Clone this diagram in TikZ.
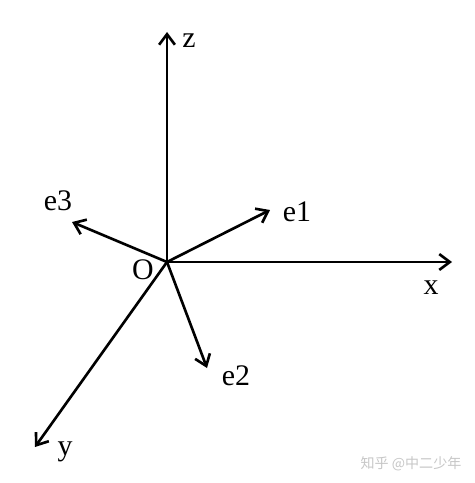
\documentclass[tikz,border=0pt]{standalone}
\usepackage{fontspec}
\setmainfont{Liberation Serif}
\newfontfamily\cjk{Noto Sans CJK SC}
\usetikzlibrary{arrows.meta}

\begin{document}
\begin{tikzpicture}[
  x=0.02cm,y=-0.02cm,
  axis/.style={-{Straight Barb[length=6pt,width=9pt,line width=1.5pt]},line width=1.5pt},
  lab/.style={font=\fontsize{17}{17}\selectfont,inner sep=0pt},
  wmark/.style={font=\cjk\fontsize{8}{8}\selectfont,text=black!22,inner sep=0pt}]

  % canvas
  \useasboundingbox[fill=white] (0,0) rectangle (474,483);

  % origin and tips of the arrows
  \coordinate (O) at (167,262);
  \coordinate (X) at (452,262);
  \coordinate (Y) at (35,447);
  \coordinate (Z) at (167,32);
  \coordinate (E1) at (270,210);
  \coordinate (E2) at (207,368);
  \coordinate (E3) at (72,222);

  % axes and vectors
  \draw[axis] (O) -- (Z);
  \draw[axis] (O) -- (X);
  \draw[axis] (O) -- (Y);
  \draw[axis] (O) -- (E1);
  \draw[axis] (O) -- (E2);
  \draw[axis] (O) -- (E3);

  % labels
  \node[lab] (Olab) at (143,270) {O};
  \node[lab] (Zlab) at (189,41) {z};
  \node[lab] (Xlab) at (431,288) {x};
  \node[lab] (Ylab) at (65,452) {y};
  \node[lab] (E1lab) at (297,212) {e1};
  \node[lab] (E2lab) at (236,376) {e2};
  \node[lab] (E3lab) at (58,201) {e3};

  % watermark
  \node[wmark] (wm) at (411,464) {知乎 @中二少年};
\end{tikzpicture}
\end{document}
